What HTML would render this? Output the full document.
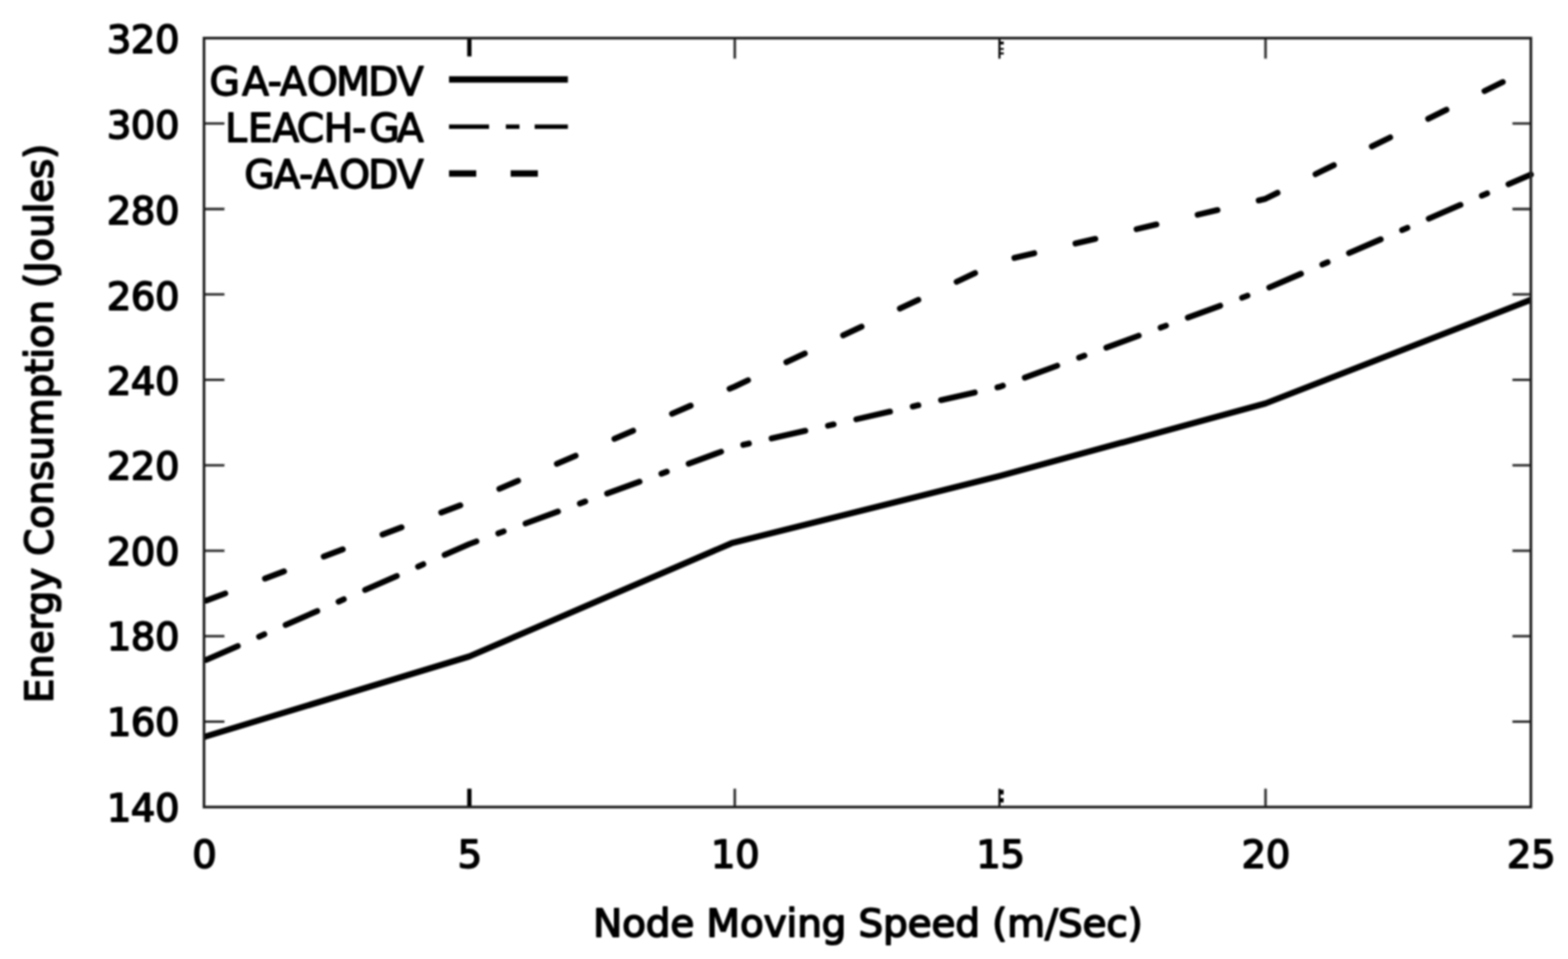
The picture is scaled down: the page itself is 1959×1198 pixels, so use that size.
<!DOCTYPE html>
<html lang="en"><head><meta charset="utf-8">
<title>Energy Consumption vs Node Moving Speed</title>
<style>
html,body{margin:0;padding:0;background:#fff;}
body{width:1959px;height:1198px;overflow:hidden;}
svg{display:block;}
text{font-family:"DejaVu Sans", "Liberation Sans", sans-serif;font-size:49px;fill:#000;stroke:#000;stroke-width:1.8px;stroke-linejoin:round;letter-spacing:-0.5px;}
.num{letter-spacing:-0.3px;font-size:48px;stroke-width:2px;}
.ax{fill:none;stroke:#1c1c1c;stroke-width:3.3;}
.tk{fill:none;stroke:#2a2a2a;stroke-width:3.1;}
.ln{fill:none;stroke:#000;stroke-linejoin:round;}
</style></head><body>
<svg width="1959" height="1198" viewBox="0 0 1959 1198">
<defs><filter id="soft" x="-2%" y="-2%" width="104%" height="104%"><feGaussianBlur stdDeviation="0.95"/></filter></defs>
<rect width="1959" height="1198" fill="#fff"/>
<g filter="url(#soft)">
<path class="tk" d="M254.9 901.5h25.5M1912.6 901.5h-23.0M254.9 794.7h25.5M1912.6 794.7h-23.0M254.9 688.0h25.5M1912.6 688.0h-23.0M254.9 581.3h25.5M1912.6 581.3h-23.0M254.9 474.5h25.5M1912.6 474.5h-23.0M254.9 367.8h25.5M1912.6 367.8h-23.0M254.9 261.1h25.5M1912.6 261.1h-23.0M254.9 154.3h25.5M1912.6 154.3h-23.0M918.0 1008.2v-23.0M918.0 47.6v25.6M1581.1 1008.2v-23.0M1581.1 47.6v25.6"/>
<path class="tk" style="stroke:#000;stroke-width:5.4" d="M586.4 1008.2v-23.0M586.4 47.6v23.0"/>
<path class="tk" style="stroke:#000;stroke-width:2.6" d="M1248.7 1008.2v-23.0M1248.7 47.6v25.6"/>
<path fill="#000" d="M1249.5 52h4.6v3.6h-4.6zM1249.5 60h4.6v2.2h-4.6zM1249.5 65.6h4.6v2.4h-4.6zM1249.5 986.5h4.4v6h-4.4zM1249.5 997h4.4v5.6h-4.4z"/>
<text class="num" x="224.1" y="1025.8" text-anchor="end">140</text>
<text class="num" x="224.1" y="919.1" text-anchor="end">160</text>
<text class="num" x="224.1" y="812.3" text-anchor="end">180</text>
<text class="num" x="224.1" y="705.6" text-anchor="end">200</text>
<text class="num" x="224.1" y="598.9" text-anchor="end">220</text>
<text class="num" x="224.1" y="493.3" text-anchor="end">240</text>
<text class="num" x="224.1" y="386.6" text-anchor="end">260</text>
<text class="num" x="224.1" y="279.9" text-anchor="end">280</text>
<text class="num" x="224.1" y="173.1" text-anchor="end">300</text>
<text class="num" x="224.1" y="66.4" text-anchor="end">320</text>
<text class="num" x="255.4" y="1084.2" text-anchor="middle">0</text>
<text class="num" x="586.9" y="1084.2" text-anchor="middle">5</text>
<text class="num" x="918.5" y="1084.2" text-anchor="middle">10</text>
<text class="num" x="1250.0" y="1084.2" text-anchor="middle">15</text>
<text class="num" x="1581.6" y="1084.2" text-anchor="middle">20</text>
<text class="num" x="1913.1" y="1084.2" text-anchor="middle">25</text>
<text x="1084.3" y="1170" text-anchor="middle" style="letter-spacing:-0.2px;stroke-width:2px;font-size:48.7px">Node Moving Speed (m/Sec)</text>
<text transform="translate(65.8,529) rotate(-90)" text-anchor="middle" style="letter-spacing:-0.05px;stroke-width:2.2px;font-size:48.3px">Energy Consumption (Joules)</text>
<text x="261.8 302.5 334.5 349.8 383.5 420 460.1 495.7" y="119">GA-AOMDV</text>
<text x="281.3 309.8 340.3 370.7 404.5 440 461.5 495.7" y="177">LEACH-GA</text>
<text x="305.2 341.8 373.8 389.1 423.7 460.1 495.7" y="234.5">GA-AODV</text>
<path class="ln" stroke-width="8" d="M561 99.2H709.5"/>
<path class="ln" stroke-width="5.5" stroke-dasharray="50 21 17 19" d="M561 158.3H709.5"/>
<path class="ln" stroke-width="8" stroke-dasharray="34 43" d="M561 216.8H709.5"/>
<path class="ln" stroke-width="7.7" d="M254.9 920.6L586.4 820L914 678.6L1249.5 594.5L1581 504L1912.6 374.4"/>
<path class="ln" stroke-linecap="round" stroke-width="7.4" stroke-dasharray="43.10 29.16 7.10 29.16" stroke-dashoffset="-2.95" d="M254.9 825.6 L586.4 679.6 L918.0 558.1 L1249.5 483.1 L1581.1 361.1 L1912.6 218.0"/>
<path class="ln" stroke-linecap="round" stroke-width="7.4" stroke-dasharray="25.40 53.00" stroke-dashoffset="-2.95" d="M254.9 751.3 L586.4 627.0 L918.0 482.8 L1249.5 326.4 L1581.1 248.3 L1912.6 85.2"/>
<rect class="ax" x="254.9" y="47.6" width="1657.7" height="960.6"/>
</g></svg></body></html>
